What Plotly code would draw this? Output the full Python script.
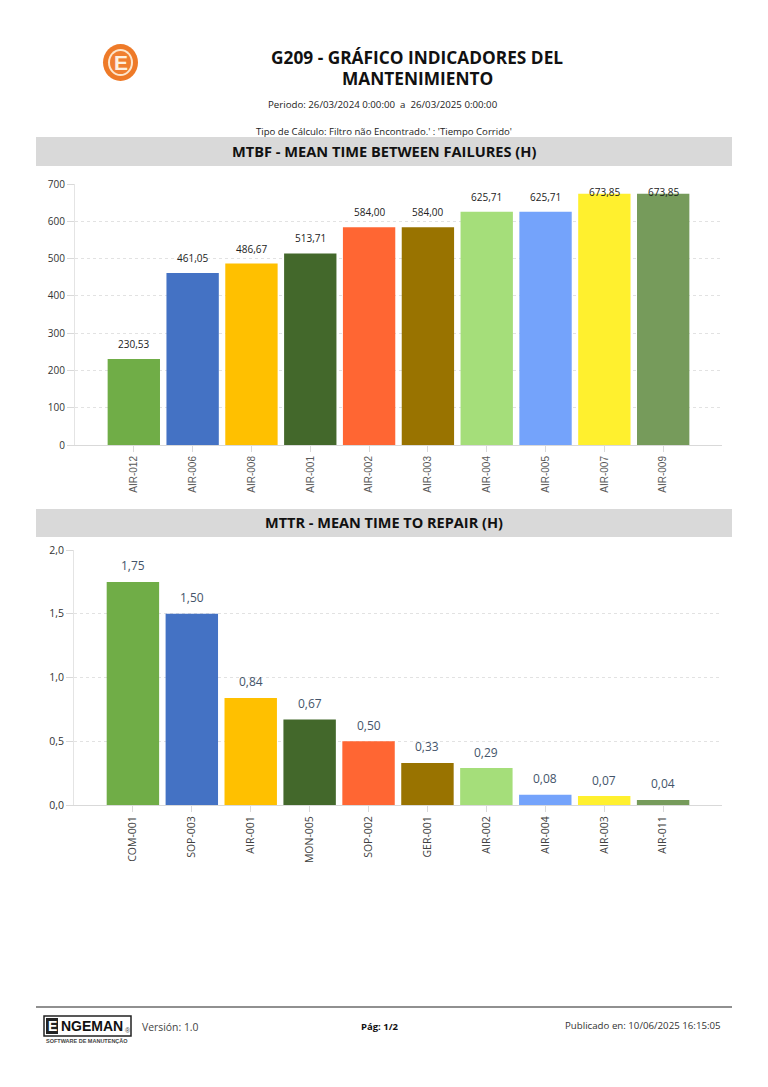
import plotly.graph_objects as go

W = 768
H = 1087

mtbf_names = ['AIR-012', 'AIR-006', 'AIR-008', 'AIR-001', 'AIR-002', 'AIR-003', 'AIR-004', 'AIR-005', 'AIR-007', 'AIR-009']
mtbf_vals = [230.53, 461.05, 486.67, 513.71, 584.00, 584.00, 625.71, 625.71, 673.85, 673.85]
mttr_names = ['COM-001', 'SOP-003', 'AIR-001', 'MON-005', 'SOP-002', 'GER-001', 'AIR-002', 'AIR-004', 'AIR-003', 'AIR-011']
mttr_vals = [1.75, 1.50, 0.84, 0.67, 0.50, 0.33, 0.29, 0.08, 0.07, 0.04]
bar_colors = ['#70ad47', '#4472c4', '#ffc000', '#43682b', '#ff6633', '#997300', '#a5de7a', '#74a3fb', '#fff02e', '#769b5b']
mtbf_ticks = [0, 100, 200, 300, 400, 500, 600, 700]
mttr_ticks = [0, 0.5, 1.0, 1.5, 2.0]


def px(x):
    return x / W


def py(y):
    return 1 - y / H


def label(x, y, text, size=10, color='#222222', bold=False, anchor='center', font='Open Sans'):
    if bold:
        text = '<b>' + text + '</b>'
    fig.add_annotation(x=px(x), y=py(y), xref='paper', yref='paper', text=text, showarrow=False,
                       xanchor=anchor, yanchor='middle', font=dict(size=size, color=color, family=font))


def box(x0, y0, x1, y1, fill=None, line=None, kind='rect', width=1):
    fig.add_shape(type=kind, xref='paper', yref='paper', x0=px(x0), x1=px(x1), y0=py(y0), y1=py(y1),
                  fillcolor=fill, line=dict(color=line, width=width if line else 0), layer='below')


fig = go.Figure()

fig.add_trace(go.Bar(x=mtbf_names, y=mtbf_vals, marker=dict(color=bar_colors, line=dict(width=0)), width=0.89,
                     xaxis='x', yaxis='y', showlegend=False))
fig.add_trace(go.Bar(x=mttr_names, y=mttr_vals, marker=dict(color=bar_colors, line=dict(width=0)), width=0.89,
                     xaxis='x2', yaxis='y2', showlegend=False))

# value labels, the two tallest bars of the first chart get pushed down by the plot top
for i, (n, v) in enumerate(zip(mtbf_names, mtbf_vals)):
    fig.add_annotation(x=n, y=v, xref='x', yref='y', text=f'{v:.2f}'.replace('.', ','), showarrow=False,
                       yshift=2 if i >= 8 else 15, font=dict(size=10, color='#222222', family='Open Sans'))
for n, v in zip(mttr_names, mttr_vals):
    fig.add_annotation(x=n, y=v, xref='x2', yref='y2', text=f'{v:.2f}'.replace('.', ','), showarrow=False,
                       yshift=16, font=dict(size=12, color='#44546a', family='Open Sans'))

axis_x = dict(type='category', range=[-1, 10], tickangle=-90, ticks='outside', ticklen=6, tickcolor='#d9d9d9',
              showline=True, linecolor='#d9d9d9', showgrid=False, zeroline=False, automargin=False)
axis_y = dict(ticks='outside', ticklen=7, tickcolor='#d9d9d9', showline=True, linecolor='#e4e4e4',
              showgrid=True, griddash='dot', gridcolor='#e2e2e2', gridwidth=1, zeroline=False, automargin=False)

fig.update_layout(
    width=W, height=H, margin=dict(l=0, r=0, t=0, b=0, pad=0), autosize=False,
    paper_bgcolor='white', plot_bgcolor='white', separators=',.', bargap=0.11,
    font=dict(family='Open Sans', color='#222222'),
    xaxis=dict(axis_x, domain=[px(75), px(722)], anchor='y',
               tickfont=dict(size=10, color='#595959', family='Liberation Sans')),
    yaxis=dict(axis_y, domain=[py(445), py(184)], anchor='x', range=[0, 700], tickvals=mtbf_ticks,
               tickfont=dict(size=10, color='#333333')),
    xaxis2=dict(axis_x, domain=[px(74), px(722)], anchor='y2', tickfont=dict(size=10.5, color='#404040')),
    yaxis2=dict(axis_y, domain=[py(805), py(550)], anchor='x2', range=[0, 2], tickvals=mttr_ticks, tickformat='.1f',
                tickfont=dict(size=10.5, color='#333333')),
)

# header
box(103, 44, 138, 81, fill='#ee7a28', kind='circle')
box(108, 49, 133, 76, fill='#fde6cc', kind='circle')
box(110, 51, 131, 74, fill='#f07f30', kind='circle')
label(120.5, 62, 'E', size=21, color='#fdf0e0', bold=True, font='Liberation Sans')

label(417, 57, 'G209 - GRÁFICO INDICADORES DEL', size=17.3, color='#111111', bold=True)
label(417, 79, 'MANTENIMIENTO', size=17.3, color='#111111', bold=True)
label(383, 105, 'Periodo: 26/03/2024 0:00:00  a  26/03/2025 0:00:00', size=9.7)
label(384, 131, "Tipo de Cálculo: Filtro não Encontrado.' : 'Tiempo Corrido'", size=9.6)

# section bands
box(36, 137, 732, 166, fill='#d9d9d9')
box(36, 509, 732, 537, fill='#d9d9d9')
label(384, 151, 'MTBF - MEAN TIME BETWEEN FAILURES (H)', size=14.6, color='#111111', bold=True)
label(384, 522, 'MTTR - MEAN TIME TO REPAIR (H)', size=14.5, color='#111111', bold=True)

# footer
box(36, 1006.5, 732, 1007.5, fill='#222222')
box(44, 1016, 131, 1036, line='#222222', width=1.5)
box(46, 1018, 58, 1034, fill='#222222')
label(52, 1026, 'E', size=14, color='white', bold=True, font='Liberation Sans')
label(59, 1026, 'NGEMAN', size=14, color='#111111', bold=True, anchor='left', font='Liberation Sans')
label(123, 1030, '®', size=7, color='#444444', anchor='left', font='Liberation Sans')
label(44, 1041, 'SOFTWARE DE MANUTENÇÃO', size=5.5, color='#444444', bold=True, anchor='left', font='Liberation Sans')
label(140, 1027, 'Versión: 1.0', size=10.4, color='#444444', anchor='left')
label(380, 1026, 'Pág: 1/2', size=9.5, color='#111111', bold=True)
label(723, 1025, 'Publicado en: 10/06/2025 16:15:05', size=9.7, color='#333333', anchor='right')

fig.write_html("out.html", config=dict(displayModeBar=False), post_script="document.body.style.margin='0';")
